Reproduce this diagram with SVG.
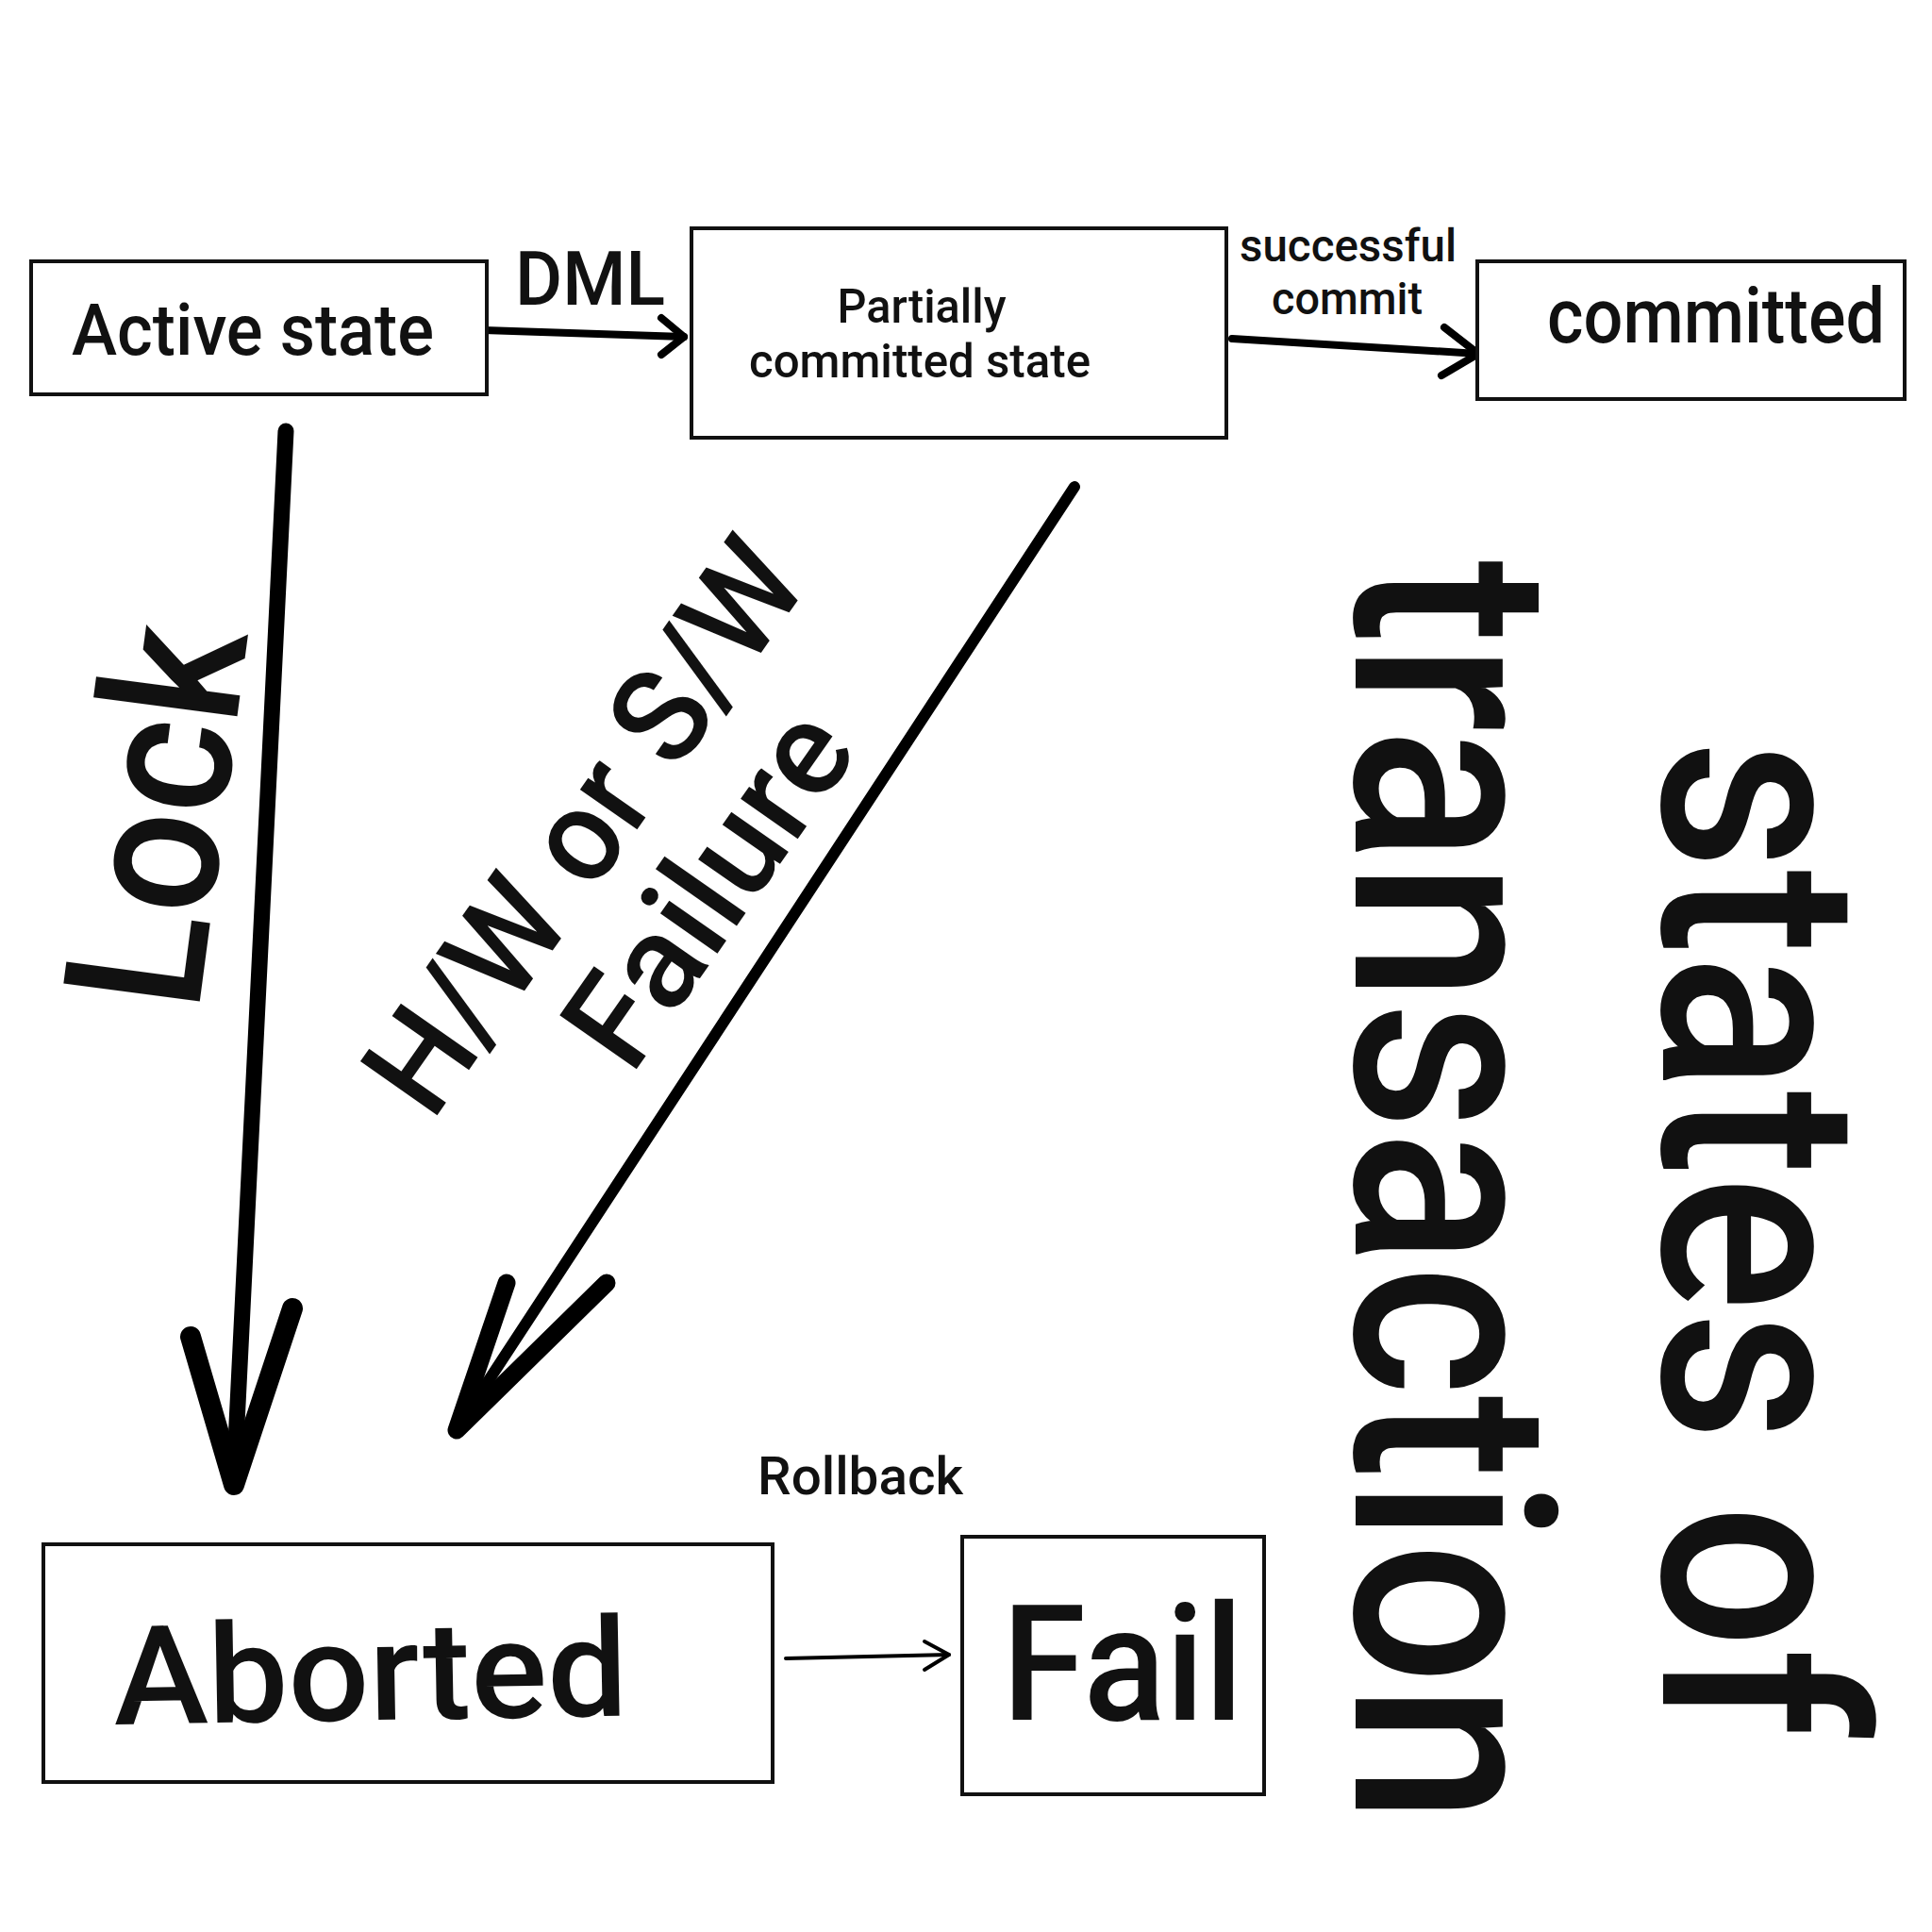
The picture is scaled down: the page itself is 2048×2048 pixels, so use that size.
<svg xmlns="http://www.w3.org/2000/svg" width="2048" height="2048" viewBox="0 0 2048 2048">
<defs>
<style>
.box{fill:#fff;stroke:#111;stroke-width:4}
.t{font-family:Roboto,"Liberation Sans",sans-serif;fill:#111;font-weight:500}
.ln{fill:none;stroke:#000;stroke-linecap:round;stroke-linejoin:round}
</style>
</defs>
<rect width="2048" height="2048" fill="#fff"/>
<g id="connectors">
  <g id="dml">
    <path class="ln" stroke-width="8" d="M513 350 L725 357"/>
    <path class="ln" stroke-width="8" d="M701 337 L725 357 L701 376"/>
    <text class="t" x="546" y="323" font-size="80" textLength="159" lengthAdjust="spacingAndGlyphs">DML</text>
  </g>
  <g id="commit">
    <path class="ln" stroke-width="8" d="M1306 359 L1567 375"/>
    <path class="ln" stroke-width="8" d="M1531 347 L1567 375 L1528 398"/>
    <text class="t" x="1429" y="277" font-size="48" text-anchor="middle" textLength="230" lengthAdjust="spacingAndGlyphs">successful</text>
    <text class="t" x="1428" y="333" font-size="48" text-anchor="middle" textLength="160" lengthAdjust="spacingAndGlyphs">commit</text>
  </g>
  <g id="lock">
    <path class="ln" stroke-width="17" d="M303 457 L248 1570"/>
    <path class="ln" stroke-width="22" d="M202 1417 L248 1574 L310 1387"/>
    <text class="t" transform="translate(210 1075) rotate(-82.5)" font-size="205" font-weight="600" textLength="405" lengthAdjust="spacingAndGlyphs">Lock</text>
  </g>
  <g id="failure">
    <path class="ln" stroke-width="12" d="M1139 516 L486 1512"/>
    <path class="ln" stroke-width="19" d="M537 1360 L484 1516 L643 1360"/>
    <g transform="translate(458 1190) rotate(-55)">
      <text class="t" x="0" y="0" font-size="140" textLength="700" lengthAdjust="spacingAndGlyphs">H/W or S/W</text>
      <text class="t" x="372" y="145" font-size="140" text-anchor="middle">Failure</text>
    </g>
  </g>
  <g id="rollback">
    <path class="ln" stroke-width="4" d="M833 1758 L1006 1754"/>
    <path class="ln" stroke-width="4" d="M980 1740 L1006 1754 L980 1770"/>
    <text class="t" x="803" y="1584" font-size="55" textLength="218" lengthAdjust="spacingAndGlyphs">Rollback</text>
  </g>
</g>
<g id="active">
  <rect class="box" x="33" y="277" width="483" height="141"/>
  <text class="t" x="76" y="376" font-size="76" textLength="384" lengthAdjust="spacingAndGlyphs">Active state</text>
</g>
<g id="partial">
  <rect class="box" x="733" y="242" width="567" height="222"/>
  <text class="t" x="977" y="342" font-size="50" text-anchor="middle" textLength="179" lengthAdjust="spacingAndGlyphs">Partially</text>
  <text class="t" x="975" y="400" font-size="50" text-anchor="middle" textLength="362" lengthAdjust="spacingAndGlyphs">committed state</text>
</g>
<g id="committed">
  <rect class="box" x="1566" y="277" width="453" height="146"/>
  <text class="t" x="1640" y="363" font-size="82" textLength="358" lengthAdjust="spacingAndGlyphs">committed</text>
</g>
<g id="aborted">
  <rect class="box" x="46" y="1637" width="773" height="252" stroke-width="5"/>
  <text class="t" transform="translate(121 1828) rotate(-1)" font-size="146" textLength="545" lengthAdjust="spacingAndGlyphs">Aborted</text>
</g>
<g id="fail">
  <rect class="box" x="1020" y="1629" width="320" height="273" stroke-width="5"/>
  <text class="t" x="1062" y="1823" font-size="170" textLength="256" lengthAdjust="spacingAndGlyphs">Fail</text>
</g>
<g id="title">
  <text class="t" transform="translate(1763 784) rotate(90)" font-size="297" textLength="1058" lengthAdjust="spacingAndGlyphs">states of</text>
  <text class="t" transform="translate(1437 594) rotate(90)" font-size="295" textLength="1339" lengthAdjust="spacingAndGlyphs">transaction</text>
</g>
</svg>
